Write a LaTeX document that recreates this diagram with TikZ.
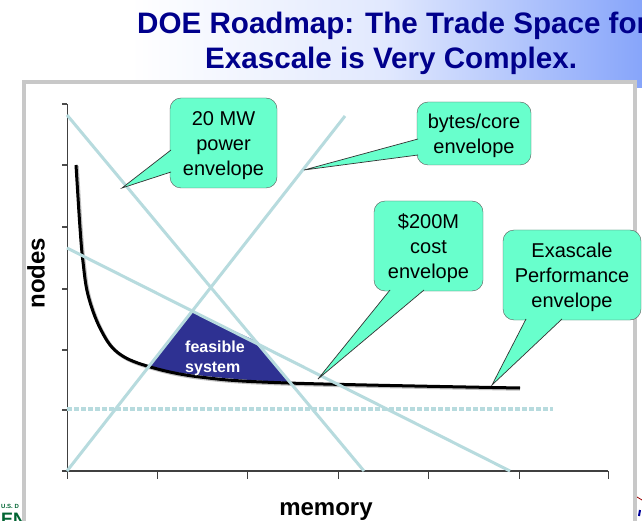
\documentclass[tikz,border=0pt]{standalone}
\usepackage{fontspec}
\setmainfont{Liberation Sans}
\definecolor{calloutfill}{RGB}{104,255,204}
\definecolor{envline}{RGB}{183,219,222}
\definecolor{feasfill}{RGB}{46,49,146}
\definecolor{titleblue}{RGB}{0,0,140}
\definecolor{bandblue}{RGB}{135,165,250}
\definecolor{framegray}{RGB}{200,200,200}
\definecolor{doegreen}{RGB}{0,100,50}
\newcommand{\toppad}{\rule{0pt}{19pt}}
\tikzset{
    callout/.style={draw=black!65, fill=calloutfill, rounded corners=11pt, align=center,
        font=\fontsize{20}{25}\selectfont, inner sep=0pt},
    tail/.style={draw=black!80, fill=calloutfill, line width=0.7pt, line join=miter},
    envelope/.style={color=envline, line width=3pt},
    axislabel/.style={font=\fontsize{24}{28}\selectfont\bfseries},
    titletext/.style={anchor=base west, inner sep=0pt, text=titleblue, font=\fontsize{29.6}{34}\selectfont\bfseries}
}
\begin{document}
\begin{tikzpicture}[x=1pt, y=-1pt]
    \useasboundingbox (0,0) rectangle (642,521);
    \clip (0,0) rectangle (642,521);
    % Draw title band
    \shade[left color=white, right color=bandblue, middle color=white!75!bandblue, shading angle=90] (130,0) rectangle (642,88);
    \node (title1) [titletext] at (137,34) {DOE Roadmap: The Trade Space for};
    \node (title2) [titletext] at (205,69) {Exascale is Very Complex.};
    % Draw logos behind the frame
    \node (doe1) [anchor=base west, inner sep=0pt, text=doegreen, font=\fontsize{6}{7}\selectfont\bfseries] at (1,508) {U.S. D};
    \node (doe2) [anchor=base west, inner sep=0pt, text=doegreen, font=\fontsize{18}{20}\selectfont\bfseries] at (1,525) {EN};
    \draw[color=red!60!black, line width=0.8pt] (637,497) -- (642,500);
    \draw[color=blue!60!black, line width=2pt] (640,510) -- (639,516);
    % Draw frame
    \draw[color=framegray, fill=white, line width=3.5pt] (24,82) rectangle (635,540);
    % Draw axes
    \draw[color=black!75, line width=1pt] (67,104) -- (67,471);
    \draw[color=black!75, line width=1.6pt] (62,471) -- (608,471);
    \foreach \ytick in {104,165,227,289,350,410}
        \draw[color=black!70, line width=1.6pt] (62,\ytick) -- (67,\ytick);
    \foreach \xtick in {67,157,247,338,428,519,608}
        \draw[color=black!75, line width=1pt] (\xtick,471) -- (\xtick,479);
    % Draw feasible region
    \fill[color=feasfill] (193,312) -- (258,342) -- (288,382)
        .. controls (240,380) and (190,376) .. (148,367) -- cycle;
    % Draw trade curve
    \draw[color=black!25, line width=3.5pt] plot[smooth, tension=0.6] coordinates {(77,166) (81,229) (84,263) (89,296) (101,329) (118,353) (148,367) (200,378) (288,384) (520,389)};
    \draw[color=black, line width=3pt] plot[smooth, tension=0.6] coordinates {(76,165) (80,228) (83,262) (88,295) (100,328) (117,352) (147,366) (200,377) (288,383) (520,388)};
    % Draw envelopes
    \draw[envelope] (67,115) -- (364,471);
    \draw[envelope] (67,471) -- (345,116);
    \draw[envelope] (67,248) -- (510,471);
    \draw[envelope, line width=3.5pt, dash pattern=on 5pt off 2pt] (67,409) -- (553,409);
    % Draw callouts
    \node (power) [callout, minimum width=107pt, minimum height=90pt] at (223.5,143) {\toppad 20 MW\\power\\envelope};
    \coordinate (powertip) at (122,188);
    \coordinate (powerup) at (171,150);
    \coordinate (powerdown) at (171,172);
    \draw[tail] (powerup) -- (powertip) -- (powerdown);
    \node (bytes) [callout, minimum width=114pt, minimum height=63pt] at (474,133.5) {\toppad bytes/core\\envelope};
    \coordinate (bytestip) at (304,170);
    \coordinate (bytesup) at (418,139);
    \coordinate (bytesdown) at (418,155);
    \draw[tail] (bytesup) -- (bytestip) -- (bytesdown);
    \node (cost) [callout, minimum width=109pt, minimum height=90pt] at (428.5,246) {\toppad\$200M\\cost\\envelope};
    \coordinate (costtip) at (318,379);
    \coordinate (costleft) at (390,290);
    \coordinate (costright) at (424,290);
    \draw[tail] (costleft) -- (costtip) -- (costright);
    \node (perf) [callout, minimum width=138pt, minimum height=90pt] at (572,275) {\toppad Exascale\\Performance\\envelope};
    \coordinate (perftip) at (492,385);
    \coordinate (perfleft) at (526,319);
    \coordinate (perfright) at (562,319);
    \draw[tail] (perfleft) -- (perftip) -- (perfright);
    % Draw labels
    \node (feasible) [align=left, text=white, inner sep=0pt, font=\fontsize{16}{20}\selectfont\bfseries] at (215,358) {feasible\\system};
    \node (xlabel) [axislabel, inner sep=0pt] at (326,511.5) {memory};
    \node (ylabel) [axislabel, rotate=90, inner sep=0pt] at (36,273) {nodes};
\end{tikzpicture}
\end{document}
